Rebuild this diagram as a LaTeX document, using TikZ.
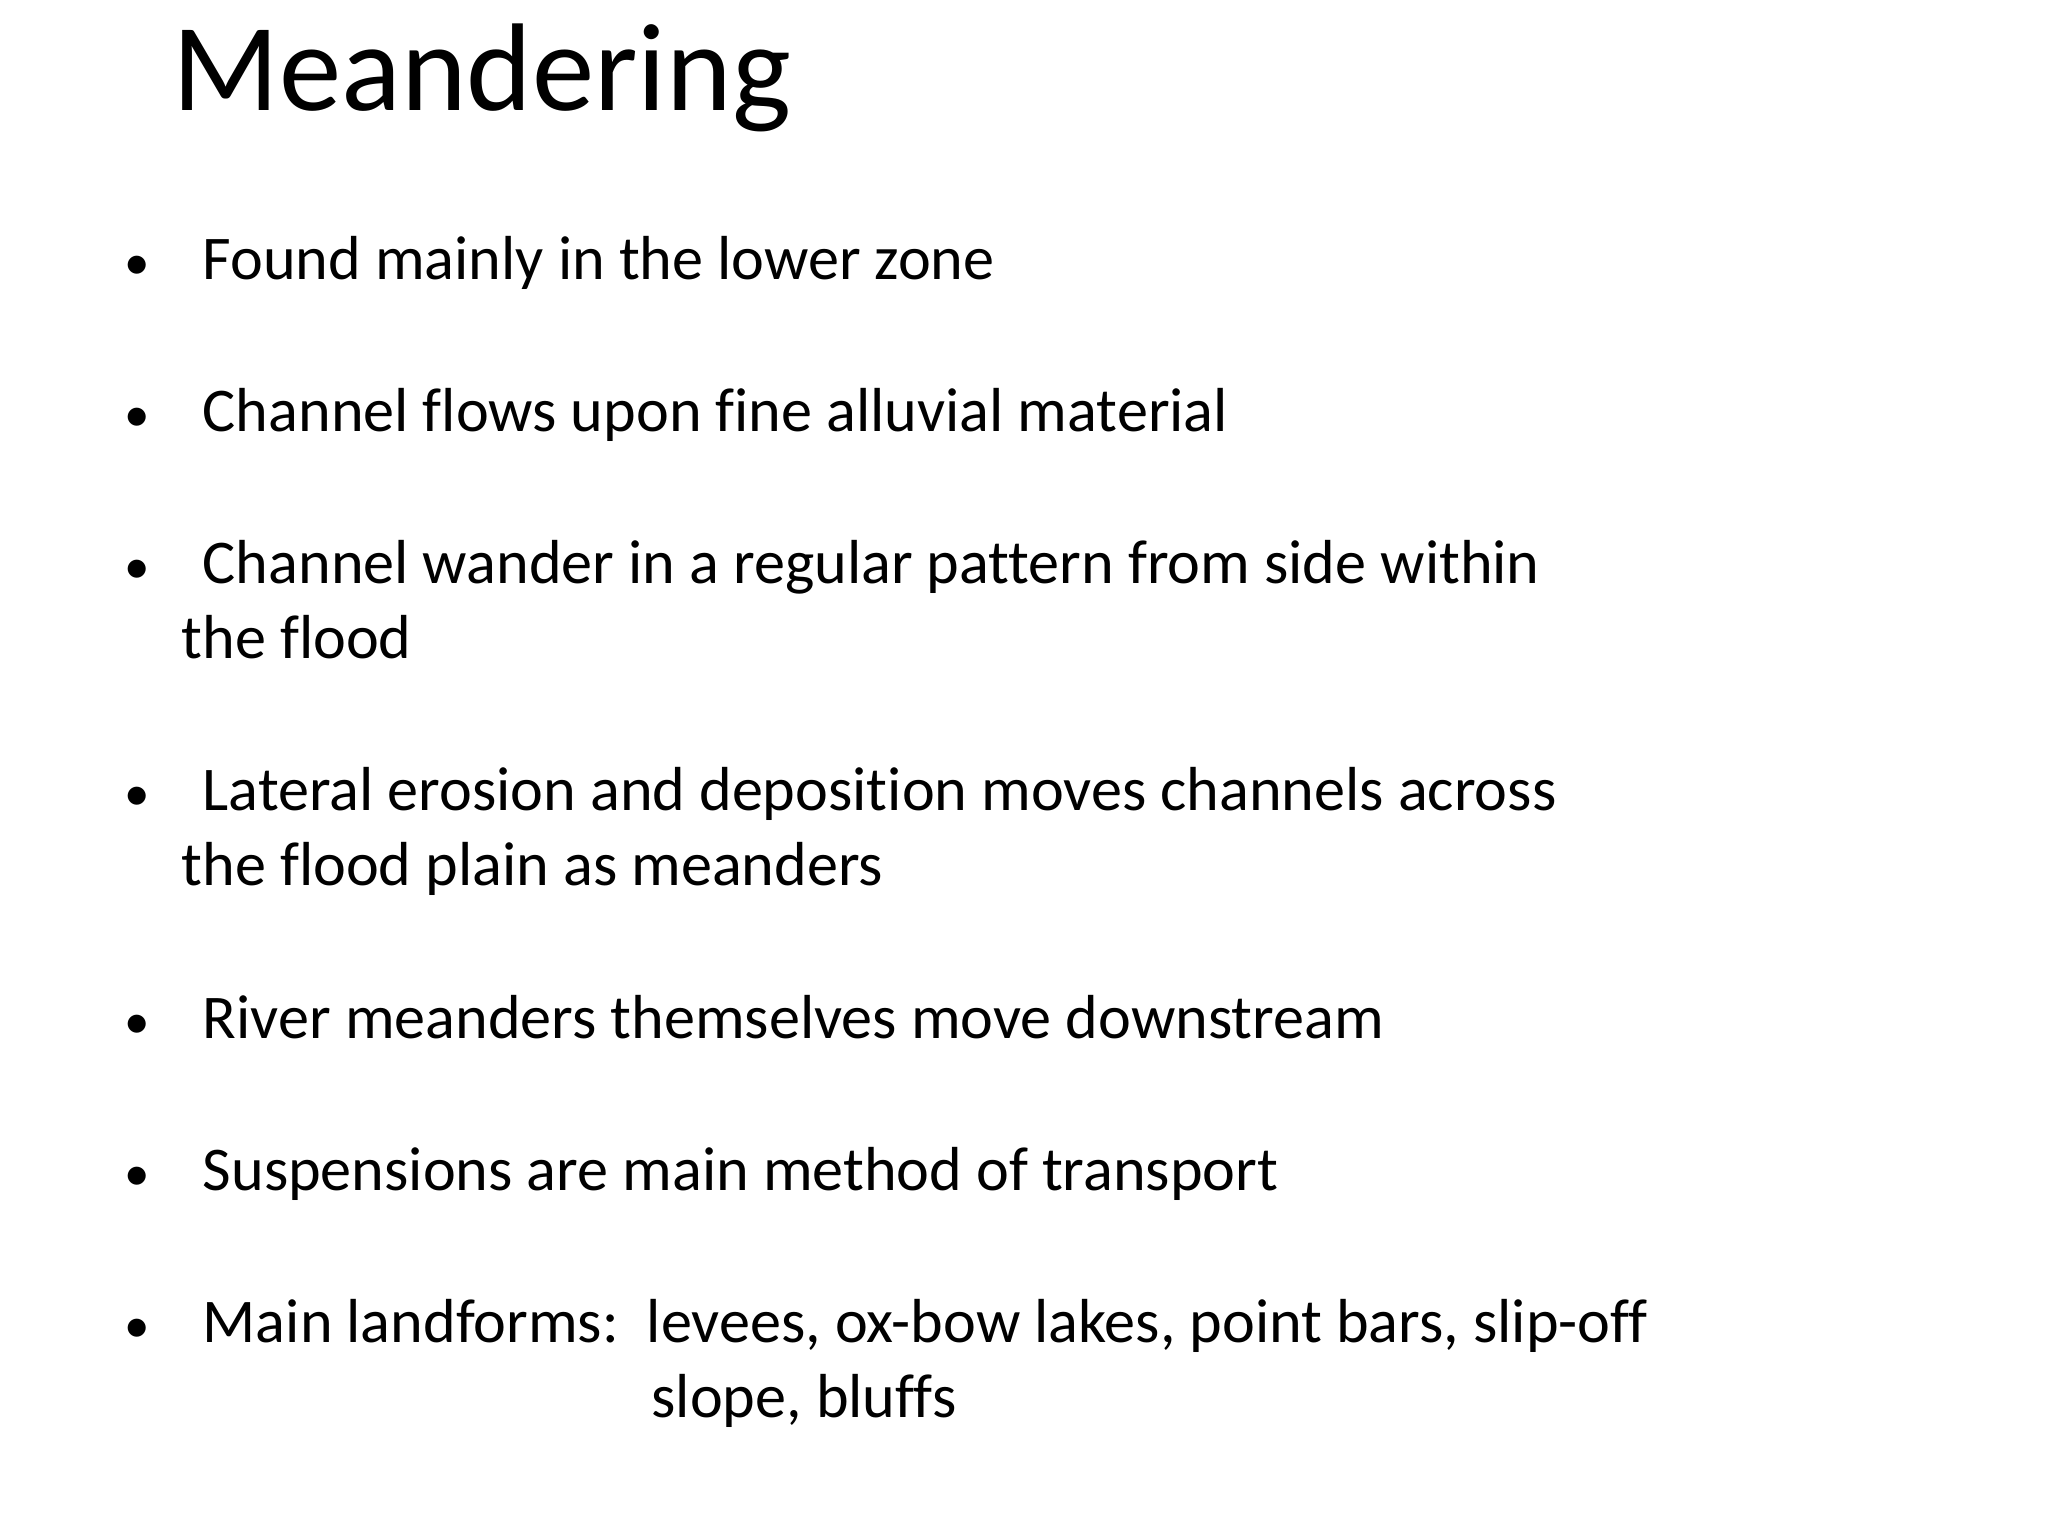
\documentclass[tikz,border=0pt]{standalone}
\usepackage{fontspec}
\setmainfont[RawFeature=-liga]{Carlito}
\begin{document}
\begin{tikzpicture}[x=0.01cm,y=-0.01cm,
  title/.style={anchor=base west,inner sep=0pt,font=\fontsize{26.9pt}{30pt}\selectfont},
  blt/.style={anchor=base west,inner sep=0pt,font=\fontsize{11pt}{14pt}\selectfont},
  txt/.style={anchor=base west,inner sep=0pt,font=\fontsize{13.4pt}{16pt}\selectfont}]
\useasboundingbox (0,0) rectangle (1552,1164);
\node[title] (t) at (130,84) {Meandering};
\foreach \y in {212,327,442,614,787,902,1017}{\node[blt] at (94,\y) {•};}
\node[txt] (a) at (153,212) {Found mainly in the lower zone};
\node[txt] (b) at (153,327) {Channel flows upon fine alluvial material};
\node[txt] (c) at (153,442) {Channel wander in a regular pattern from side within};
\node[txt] (c2) at (137,499) {the flood};
\node[txt] (d) at (153,614) {Lateral erosion and deposition moves channels across};
\node[txt] (d2) at (137,671) {the flood plain as meanders};
\node[txt] (e) at (153,787) {River meanders themselves move downstream};
\node[txt] (f) at (153,902) {Suspensions are main method of transport};
\node[txt] (g) at (153,1017) {Main landforms:\ \ levees, ox-bow lakes, point bars, slip-off};
\node[txt] (g2) at (493,1074) {slope, bluffs};
\end{tikzpicture}
\end{document}
